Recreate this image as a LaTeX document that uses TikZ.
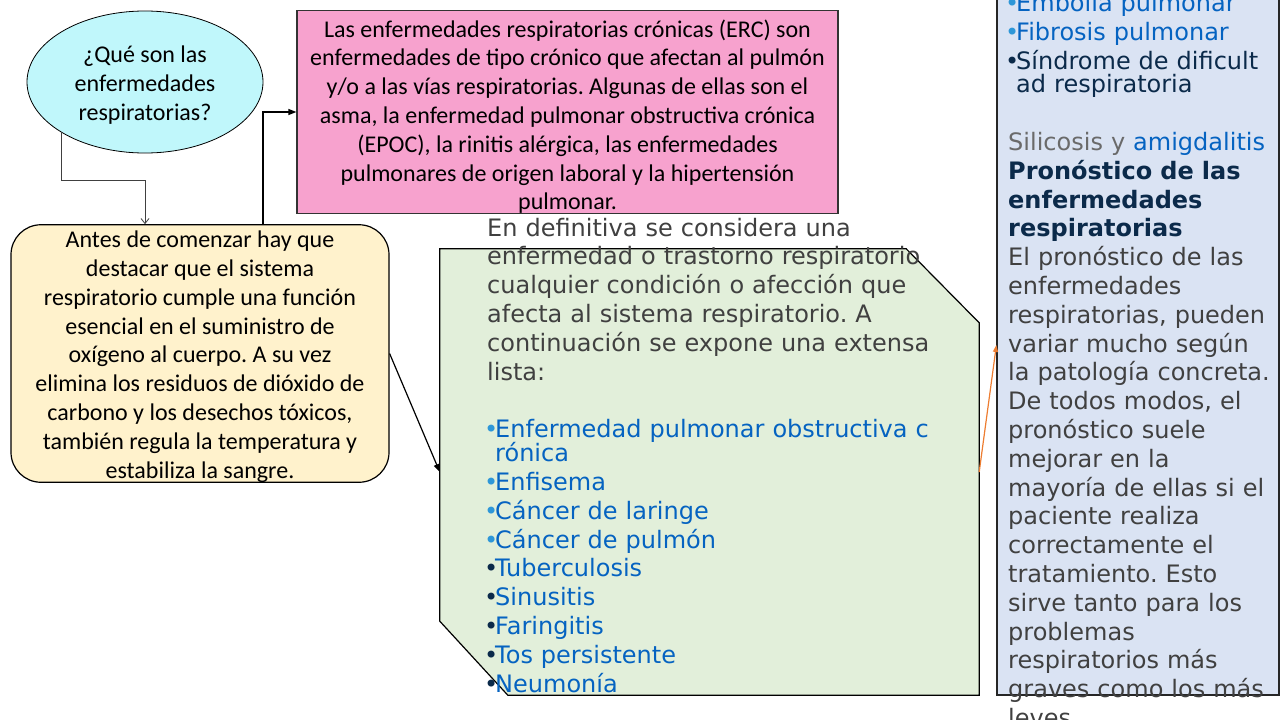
\documentclass[tikz,border=0pt]{standalone}
\usepackage{fontspec}
\setmainfont{Carlito}
\newfontfamily\djv{DejaVu Sans}
\usetikzlibrary{arrows.meta,calc,shapes.geometric}
\frenchspacing

\definecolor{cielo}{HTML}{C0F7FB}
\definecolor{rosa}{HTML}{F7A2CE}
\definecolor{crema}{HTML}{FFF2CC}
\definecolor{verde}{HTML}{E2EFDA}
\definecolor{azulclaro}{HTML}{DAE3F3}
\definecolor{enlace}{HTML}{0563C1}
\definecolor{vineta}{HTML}{2E97D8}
\definecolor{marino}{HTML}{0B2A4A}
\definecolor{gris}{HTML}{404040}
\definecolor{grisclaro}{HTML}{6A6A6A}
\definecolor{naranja}{HTML}{ED7D31}

\tikzset{
  caja/.style={draw=black, line width=1.2pt, inner sep=0pt, align=center,
    font=\fontsize{24}{28.8}\selectfont},
  texto/.style={anchor=base west, inner sep=0pt, align=left,
    font=\djv\fontsize{24}{28.8}\selectfont},
  flecha/.style={line width=1.2pt, -{Triangle[length=8pt,width=6pt]}}
}
\newcommand{\alto}[1]{\rule{0pt}{#1}}
\newcommand{\punto}{\makebox[8pt]{•}}
\newcommand{\bazul}{\textcolor{vineta}{\punto}}
\newcommand{\bmarino}{\textcolor{marino}{\punto}}

\begin{document}
\begin{tikzpicture}[x=1pt, y=-1pt]
% page of 1280 x 720
	\useasboundingbox (0,0) rectangle (1280,720);
	\clip (0,0) rectangle (1280,720);
% draw the boxes
	\node[caja, ellipse, fill=cielo, line width=0.8pt, minimum width=236pt, minimum height=142pt] (pregunta) at (145,82) {\alto{23pt}¿Qué son las\\enfermedades\\respiratorias?};
	\node[caja, draw=black!80, fill=rosa, minimum width=541pt, minimum height=200pt] (erc) at (567.5,112) {\alto{27pt}Las enfermedades respiratorias crónicas (ERC) son\\enfermedades de tipo crónico que afectan al pulmón\\y/o a las vías respiratorias. Algunas de ellas son el\\asma, la enfermedad pulmonar obstructiva crónica\\(EPOC), la rinitis alérgica, las enfermedades\\pulmonares de origen laboral y la hipertensión\\pulmonar.};
	\node[caja, fill=crema, rounded corners=30pt, minimum width=378pt, minimum height=257pt] (ante) at (200,353.5) {\alto{23pt}Antes de comenzar hay que\\destacar que el sistema\\respiratorio cumple una función\\esencial en el suministro de\\oxígeno al cuerpo. A su vez\\elimina los residuos de dióxido de\\carbono y los desechos tóxicos,\\también regula la temperatura y\\estabiliza la sangre.};
	\node[minimum width=539pt, minimum height=446pt, inner sep=0pt] (lista) at (709.5,472) {};
	\draw[fill=verde, line width=1.2pt] (lista.north west) -- ($(lista.north east)+(-73,0)$) -- ($(lista.north east)+(0,74)$) -- (lista.south east) -- ($(lista.south west)+(68,0)$) -- ($(lista.south west)+(0,-74)$) -- cycle;
	\node[caja, draw=black!85, fill=azulclaro, minimum width=282pt, minimum height=700pt] (prono) at (1138,345) {};
% texts of the list boxes
	\node[texto, text width=480pt, text=gris] (definicion) at (487,236) {En definitiva se considera una\\
enfermedad o trastorno respiratorio\\
cualquier condición o afección que\\
afecta al sistema respiratorio. A\\
continuación se expone una extensa\\
lista:\\[28.8pt]
\bazul\textcolor{enlace}{Enfermedad pulmonar obstructiva c}\\[-4.8pt]
\hspace*{8pt}\textcolor{enlace}{rónica}\\
\bazul\textcolor{enlace}{Enfisema}\\
\bazul\textcolor{enlace}{Cáncer de laringe}\\
\bazul\textcolor{enlace}{Cáncer de pulmón}\\
\bmarino\textcolor{enlace}{Tuberculosis}\\
\bmarino\textcolor{enlace}{Sinusitis}\\
\bmarino\textcolor{enlace}{Faringitis}\\
\bmarino\textcolor{enlace}{Tos persistente}\\
\bmarino\textcolor{enlace}{Neumonía}};
	\node[texto, text width=300pt, text=gris] (pronostico) at (1008,11.5) {\bazul\textcolor{enlace}{Embolia pulmonar}\\
\bazul\textcolor{enlace}{Fibrosis pulmonar}\\
\bmarino\textcolor{marino}{Síndrome de dificult}\\[-5pt]
\hspace*{8pt}\textcolor{marino}{ad respiratoria}\\[28.8pt]
\textcolor{grisclaro}{Silicosis y} \textcolor{enlace}{amigdalitis}\\
\textcolor{marino}{\bfseries Pronóstico de las}\\
\textcolor{marino}{\bfseries enfermedades}\\
\textcolor{marino}{\bfseries respiratorias}\\
El pronóstico de las\\
enfermedades\\
respiratorias, pueden\\
variar mucho según\\
la patología concreta.\\
De todos modos, el\\
pronóstico suele\\
mejorar en la\\
mayoría de ellas si el\\
paciente realiza\\
correctamente el\\
tratamiento. Esto\\
sirve tanto para los\\
problemas\\
respiratorios más\\
graves como los más\\
leves};
% draw the connectors
	\draw[gris, line width=0.8pt, -{Straight Barb[length=5pt,width=8pt]}] (pregunta.211) -- ++(0,48) -| (ante.north -| pregunta.center);
	\draw[flecha] ($(ante.north)+(63,0)$) |- (erc.west);
	\draw[flecha] (ante.east) -- (lista.west);
	\draw[naranja, line width=1.2pt, -{Triangle[length=7pt,width=5pt]}] (lista.east) -- (prono.west);
\end{tikzpicture}
\end{document}
